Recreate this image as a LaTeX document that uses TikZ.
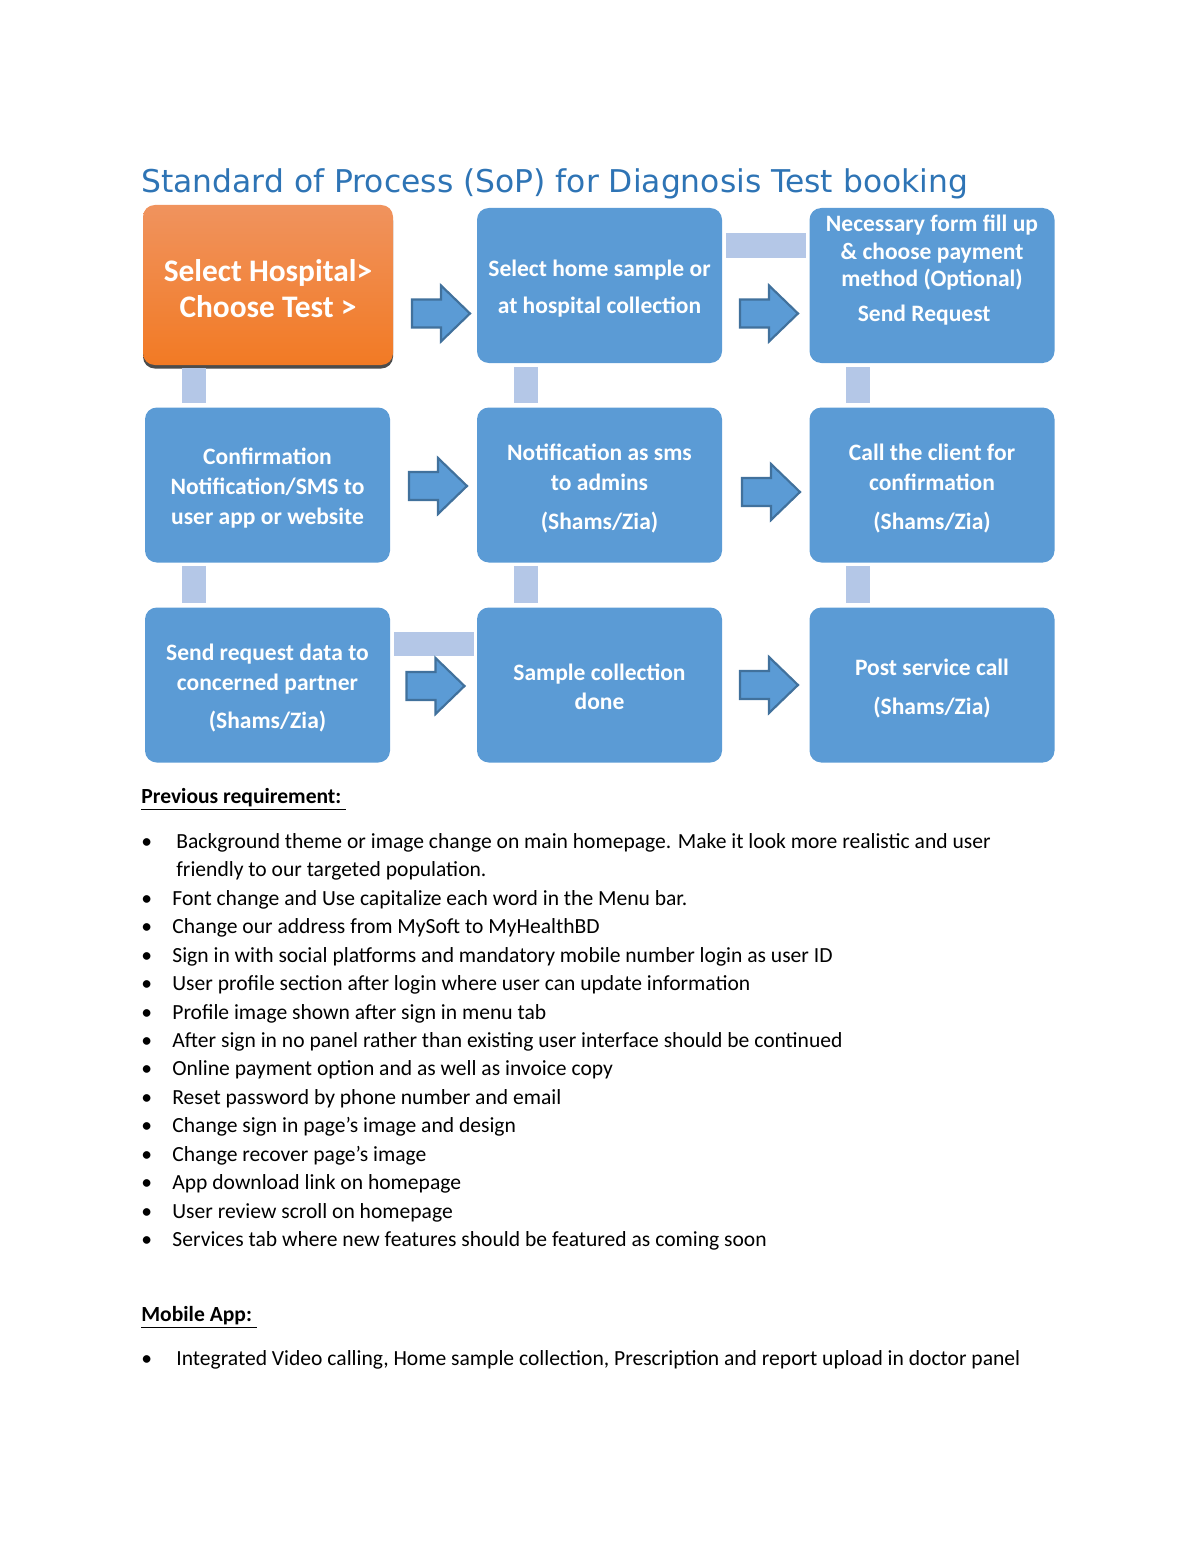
\documentclass[tikz,border=0pt]{standalone}
\usepackage{fontspec}
\setmainfont{Carlito}
\newfontfamily\titlefont{DejaVu Sans}
\usetikzlibrary{calc,shadows}
\definecolor{boxblue}{HTML}{5B9BD5}
\definecolor{arrline}{HTML}{41719C}
\definecolor{connlight}{HTML}{B4C7E7}
\definecolor{titleblue}{HTML}{2E74B5}
\definecolor{orangetop}{HTML}{F0935E}
\definecolor{orangebot}{HTML}{F27A24}
\definecolor{bodytext}{HTML}{000000}
\newcommand\blkarrow[1]{\draw[blockarr,shift={(#1)}] (-29,-14) -- (0,-14) -- (0,-28) -- (29,0) -- (0,28) -- (0,14) -- (-29,14) -- cycle;}
\newcommand\btext[2][-1.8pt]{\raisebox{#1}[\height][\depth]{\begin{tabular}{@{}c@{}}#2\end{tabular}}}
\begin{document}
\begin{tikzpicture}[x=0.51pt,y=-0.51pt,
  box/.style={rectangle, rounded corners=6pt, fill=boxblue, text=white,
    font=\bfseries\fontsize{12}{15.3}\selectfont,
    minimum width=245*0.51pt, minimum height=155*0.51pt, inner sep=0pt},
  startbox/.style={rectangle, rounded corners=6pt, top color=orangetop, bottom color=orangebot,
    text=white, font=\bfseries\fontsize{16}{18.4}\selectfont,
    minimum width=250*0.51pt, minimum height=160*0.51pt, inner sep=0pt,
    drop shadow={shadow xshift=0pt, shadow yshift=-1.8pt, fill=black!70, opacity=1}},
  conn/.style={draw=connlight, line width=24*0.51pt, line cap=butt},
  blockarr/.style={fill=boxblue, draw=arrline, line width=1.1pt, line join=miter},
  bodyline/.style={anchor=base west, inner sep=0pt, font=\fontsize{11}{13}\selectfont, text=bodytext},
  bul/.style={anchor=base west, inner sep=0pt, font=\fontsize{11}{13}\selectfont, text=bodytext}
]
\useasboundingbox (0,0) rectangle (1200,1553);

% title
\node[anchor=base west, inner sep=0pt, text=titleblue, font=\titlefont\fontsize{16}{18}\selectfont] (title) at (141,193) {Standard of Process (SoP) for Diagnosis Test booking};

% boxes
\node[startbox] (a) at (268,285) {\btext[-3.6pt]{Select Hospital>\\Choose Test >}};
\node[box] (b) at (599.5,285.5) {\btext{Select home sample or\\[3.1pt]at hospital collection}};
\node[box, align=center] (c) at (932,285.5) {Necessary form fill up\\[-1.3pt]\& choose payment\\[-1.3pt]method (Optional)\\[2.5pt]\mbox{Send Request\kern8pt}\\[2pt]\mbox{}};
\node[box] (d) at (267.5,485) {\btext{Confirmation\\Notification/SMS to\\user app or website}};
\node[box] (e) at (599.5,485) {\btext{Notification as sms\\to admins\\[4.6pt](Shams/Zia)}};
\node[box] (f) at (932,485) {\btext{Call the client for\\confirmation\\[4.6pt](Shams/Zia)}};
\node[box] (g) at (267.5,685) {\btext{Send request data to\\concerned partner\\[4.1pt](Shams/Zia)}};
\node[box] (h) at (599.5,685) {\btext{Sample collection\\[-0.5pt]done}};
\node[box] (i) at (932,685) {\btext{Post service call\\[4.6pt](Shams/Zia)}};

% light connectors
\draw[conn] ($(a.south)+(-74,3)$) -- ($(d.north)+(-73.5,-4)$);
\draw[conn] ($(b.south)+(-74,4)$) -- ($(e.north)+(-74,-4)$);
\draw[conn] ($(c.south)+(-74,4)$) -- ($(f.north)+(-74,-4)$);
\draw[conn] ($(d.south)+(-73.5,3)$) -- ($(g.north)+(-73.5,-4)$);
\draw[conn] ($(e.south)+(-74,3)$) -- ($(h.north)+(-74,-4)$);
\draw[conn] ($(f.south)+(-74,3)$) -- ($(i.north)+(-74,-4)$);
\draw[conn] ($(b.east)+(4,-40)$) -- ($(c.west)+(-3,-40)$);
\draw[conn] ($(g.east)+(4,-41.5)$) -- ($(h.west)+(-3,-41.5)$);

% block arrows
\coordinate (ab) at (441,313.5);
\coordinate (bc) at (769,313.5);
\coordinate (de) at (438,486);
\coordinate (ef) at (771,492);
\coordinate (gh) at (435.5,686);
\coordinate (hi) at (769,685);
\blkarrow{ab}
\blkarrow{bc}
\blkarrow{de}
\blkarrow{ef}
\blkarrow{gh}
\blkarrow{hi}

% text section
\node[bodyline, font=\bfseries\fontsize{11}{13}\selectfont] (prev) at (141,803) {\underline{Previous requirement:\ }};

\foreach \yy/\nm in {848.5/b1, 905.3/b2, 933.7/b3, 962.2/b4, 990.6/b5, 1019.0/b6, 1047.5/b7, 1075.9/b8, 1104.3/b9, 1132.8/b10, 1161.2/b11, 1189.6/b12, 1218.1/b13, 1246.5/b14}
  \node[bul] (\nm) at (141,\yy) {•};

\node[bodyline] (t1) at (176,848.5) {Background theme or image change on main homepage. Make it look more realistic and user};
\node[bodyline] (t1b) at (176,876.9) {friendly to our targeted population.};
\node[bodyline] (t2) at (172,905.3) {Font change and Use capitalize each word in the Menu bar.};
\node[bodyline] (t3) at (172,933.7) {Change our address from MySoft to MyHealthBD};
\node[bodyline] (t4) at (172,962.2) {Sign in with social platforms and mandatory mobile number login as user ID};
\node[bodyline] (t5) at (172,990.6) {User profile section after login where user can update information};
\node[bodyline] (t6) at (172,1019.0) {Profile image shown after sign in menu tab};
\node[bodyline] (t7) at (172,1047.5) {After sign in no panel rather than existing user interface should be continued};
\node[bodyline] (t8) at (172,1075.9) {Online payment option and as well as invoice copy};
\node[bodyline] (t9) at (172,1104.3) {Reset password by phone number and email};
\node[bodyline] (t10) at (172,1132.8) {Change sign in page’s image and design};
\node[bodyline] (t11) at (172,1161.2) {Change recover page’s image};
\node[bodyline] (t12) at (172,1189.6) {App download link on homepage};
\node[bodyline] (t13) at (172,1218.1) {User review scroll on homepage};
\node[bodyline] (t14) at (172,1246.5) {Services tab where new features should be featured as coming soon};

\node[bodyline, font=\bfseries\fontsize{11}{13}\selectfont] (mob) at (141,1321) {\underline{Mobile App:\ }};
\node[bul] (b15) at (141,1365) {•};
\node[bodyline] (t15) at (176,1365) {Integrated Video calling, Home sample collection, Prescription and report upload in doctor panel};
\end{tikzpicture}
\end{document}
